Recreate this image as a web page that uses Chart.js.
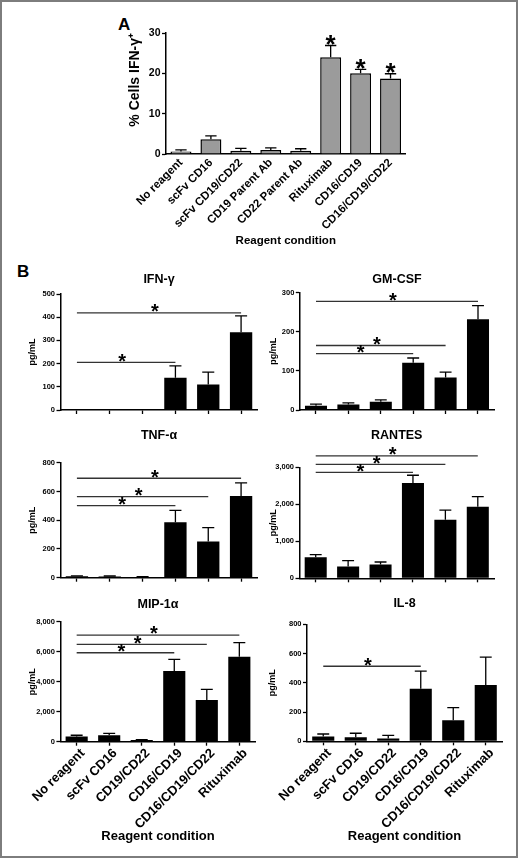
<!DOCTYPE html>
<html>
<head>
<meta charset="utf-8">
<script src="https://cdn.jsdelivr.net/npm/chart.js@4.4.0/dist/chart.umd.min.js"></script>
<style>
body { margin: 0; background: #fff; }
#page { position: relative; width: 520px; height: 860px; overflow: hidden; font-family: "Liberation Sans", Arial, sans-serif; }
#frame { position: absolute; left: 0; top: 0; width: 514px; height: 854px; border: 2px solid #7d7d7d; }
canvas { position: absolute; }
.tag { position: absolute; font-weight: bold; font-size: 17px; line-height: 1; }
</style>
</head>
<body>
<div id="page">
<div id="frame"></div>
<div class="tag" style="left:118px;top:16px">A</div>
<div class="tag" style="left:17px;top:263px">B</div>
<canvas id="cA" width="520" height="258" style="left:0;top:0"></canvas>
<canvas id="cIfn" width="260" height="160" style="left:0;top:262px"></canvas>
<canvas id="cGm" width="260" height="160" style="left:260px;top:262px"></canvas>
<canvas id="cTnf" width="260" height="165" style="left:0;top:422px"></canvas>
<canvas id="cRantes" width="260" height="165" style="left:260px;top:422px"></canvas>
<canvas id="cMip" width="260" height="268" style="left:0;top:587px"></canvas>
<canvas id="cIl8" width="260" height="268" style="left:260px;top:587px"></canvas>
</div>
<script>
// panel A - % IFN-gamma+ cells
const labelsA = ['No reagent', 'scFv CD16', 'scFv CD19/CD22', 'CD19 Parent Ab', 'CD22 Parent Ab', 'Rituximab', 'CD16/CD19', 'CD16/CD19/CD22'];
const cellsIfn = [0.6, 3.65, 0.8, 1.0, 0.8, 24.0, 20.0, 18.7];
const cellsIfnErr = [0.4, 0.85, 0.6, 0.5, 0.5, 2.9, 1.0, 1.2];
const cellsIfnStars = [5, 6, 7];

// panel B - cytokines, pg/mL
const labelsB = ['No reagent', 'scFv CD16', 'CD19/CD22', 'CD16/CD19', 'CD16/CD19/CD22', 'Rituximab'];

const ifng = [0, 0, 0, 139, 110, 335];
const ifngErr = [0, 0, 0, 51, 53, 71];
const ifngSigTo = [5, 3];
const ifngSigAt = [419, 205];

const gmcsf = [11, 14, 21, 121, 83, 232];
const gmcsfErr = [4, 4, 5, 12, 14, 35];
const gmcsfSigTo = [5, 4, 3];
const gmcsfSigAt = [278, 165, 144];

const tnfa = [10, 8, 5, 385, 251, 569];
const tnfaErr = [3, 4, 2, 84, 97, 90];
const tnfaSigTo = [5, 4, 3];
const tnfaSigAt = [692, 564, 501];

const rantes = [570, 320, 370, 2575, 1585, 1935];
const rantesErr = [70, 160, 70, 210, 260, 270];
const rantesSigTo = [5, 4, 3];
const rantesSigAt = [3310, 3080, 2865];

const mip1a = [350, 430, 110, 4710, 2780, 5670];
const mip1aErr = [80, 130, 30, 780, 710, 930];
const mip1aSigTo = [5, 4, 3];
const mip1aSigAt = [7110, 6490, 5930];

const il8 = [33, 28, 20, 360, 144, 385];
const il8Err = [17, 27, 20, 120, 86, 190];
const il8SigTo = [3];
const il8SigAt = [513];

const FONT = '"Liberation Sans", Arial, sans-serif';
Chart.defaults.font.family = FONT;
Chart.defaults.color = '#000';

// error bars (upper half only), significance brackets, stars and panel title
const marks = {
  id: 'marks',
  afterDatasetsDraw(chart, args, o) {
    const ctx = chart.ctx;
    const xs = chart.scales.x, ys = chart.scales.y;
    const vals = chart.data.datasets[0].data;
    const bars = chart.getDatasetMeta(0).data;
    ctx.save();
    ctx.strokeStyle = '#000';
    ctx.lineWidth = 1.3;
    (o.err || []).forEach((e, i) => {
      if (!e) return;
      const bx = bars[i].x;
      const top = ys.getPixelForValue(vals[i] + e);
      const base = ys.getPixelForValue(vals[i]);
      const half = bars[i].width * 0.27;
      ctx.beginPath();
      ctx.moveTo(bx, base); ctx.lineTo(bx, top);
      ctx.moveTo(bx - half, top); ctx.lineTo(bx + half, top);
      ctx.stroke();
    });
    ctx.fillStyle = '#000';
    ctx.textAlign = 'center';
    ctx.textBaseline = 'alphabetic';
    ctx.font = 'bold ' + o.starSize + 'px ' + FONT;
    (o.sigTo || []).forEach((to, k) => {
      const x0 = xs.getPixelForValue(0), x1 = xs.getPixelForValue(to);
      const py = ys.getPixelForValue(o.sigAt[k]);
      ctx.strokeStyle = '#333';
      ctx.beginPath(); ctx.moveTo(x0, py); ctx.lineTo(x1, py); ctx.stroke();
      ctx.fillText('*', (x0 + x1) / 2 - 4, py + o.starSize * 0.27);
    });
    (o.stars || []).forEach(i => {
      const py = ys.getPixelForValue(vals[i] + o.err[i]);
      ctx.fillText('*', bars[i].x, py + o.starSize * 0.28);
    });
    if (o.title) {
      ctx.font = 'bold 12.5px ' + FONT;
      ctx.textBaseline = 'middle';
      ctx.fillText(o.title, (chart.chartArea.left + chart.chartArea.right) / 2, o.titleY);
    }
    ctx.restore();
  }
};

function drawPanel(id, c) {
  const cv = document.getElementById(id);
  const W = cv.width, H = cv.height, box = c.box;
  return new Chart(cv, {
    type: 'bar',
    data: {
      labels: c.labels,
      datasets: [{
        data: c.values,
        backgroundColor: c.color,
        borderColor: '#000',
        borderWidth: c.border,
        barPercentage: c.barPct,
        categoryPercentage: 1
      }]
    },
    options: {
      responsive: false,
      animation: false,
      layout: { padding: { left: 0, right: W - box.r, top: box.t, bottom: 0 } },
      plugins: {
        legend: { display: false },
        tooltip: { enabled: false },
        marks: {
          err: c.err, sigTo: c.sigTo, sigAt: c.sigAt, stars: c.stars,
          starSize: c.starSize, title: c.title, titleY: c.titleY
        }
      },
      scales: {
        x: {
          grid: { display: true, drawOnChartArea: false, offset: false, drawTicks: c.xTick > 0, tickLength: c.xTick, tickColor: '#000', tickWidth: 1.3 },
          border: { color: '#000', width: 1.5 },
          ticks: { display: c.xLabels, autoSkip: false, minRotation: 45, maxRotation: 45, padding: c.xPad, labelOffset: c.xShift, font: { size: c.xFont, weight: 'bold' } },
          // bottom titles are offset by padding.bottom
          title: { display: !!c.xTitle, text: c.xTitle, font: { size: c.xTitleFont, weight: 'bold' }, padding: { top: 0, bottom: c.xTitleGap - c.xTitleFont * 0.6 } },
          afterFit: s => { s.height = H - box.b; }
        },
        y: {
          min: 0,
          max: c.max,
          ticks: { stepSize: c.step, padding: 1.5, font: { size: c.yFont, weight: 'bold' } },
          grid: { drawOnChartArea: false, tickLength: 4, tickColor: '#000', tickWidth: 1.3 },
          border: { color: '#000', width: 1.5 },
          title: { display: true, text: c.yTitle, align: c.yAlign, font: { size: c.yTitleFont, weight: 'bold' }, padding: { top: c.yTitleX - c.yTitleFont * 0.6, bottom: 0 } },
          afterFit: s => { s.width = box.l; }
        }
      }
    },
    plugins: [marks]
  });
}

drawPanel('cA', {
  labels: labelsA, values: cellsIfn, err: cellsIfnErr, stars: cellsIfnStars, starSize: 26,
  color: '#9b9b9b', border: 1.5, barPct: 0.7,
  box: { l: 166, r: 405.5, t: 33, b: 154 },
  max: 30, step: 10, yFont: 10.5,
  yTitle: '% Cells IFN-\u03b3\u207a', yTitleFont: 14, yTitleX: 135.5, yAlign: 'end',
  xTick: 0, xLabels: true, xFont: 11.5, xPad: 2, xShift: 0,
  xTitle: 'Reagent condition', xTitleFont: 11.5, xTitleGap: 17
});

function cytokine(id, values, err, sigTo, sigAt, title, titleY, max, step, box, yTitleX, lastRow) {
  drawPanel(id, {
    labels: labelsB, values: values, err: err, sigTo: sigTo, sigAt: sigAt, starSize: 20,
    title: title, titleY: titleY,
    color: '#000', border: 0, barPct: 0.68,
    box: box, max: max, step: step, yFont: 7.5,
    yTitle: 'pg/mL', yTitleFont: 9, yTitleX: yTitleX, yAlign: 'center',
    xTick: 4, xLabels: lastRow, xFont: 13, xPad: 0, xShift: 6,
    xTitle: lastRow ? 'Reagent condition' : '', xTitleFont: 13, xTitleGap: 19
  });
}

cytokine('cIfn', ifng, ifngErr, ifngSigTo, ifngSigAt, 'IFN-\u03b3', 18, 500, 100, { l: 60.5, r: 257.5, t: 32, b: 148 }, 32.5, false);
cytokine('cGm', gmcsf, gmcsfErr, gmcsfSigTo, gmcsfSigAt, 'GM-CSF', 18, 300, 100, { l: 39.8, r: 234.2, t: 30.7, b: 148 }, 14, false);
cytokine('cTnf', tnfa, tnfaErr, tnfaSigTo, tnfaSigAt, 'TNF-\u03b1', 13.7, 800, 200, { l: 60.5, r: 257.5, t: 40.7, b: 155.7 }, 32.5, false);
cytokine('cRantes', rantes, rantesErr, rantesSigTo, rantesSigAt, 'RANTES', 13.7, 3000, 1000, { l: 39.5, r: 234, t: 45.3, b: 156.3 }, 14, false);
cytokine('cMip', mip1a, mip1aErr, mip1aSigTo, mip1aSigAt, 'MIP-1\u03b1', 17.3, 8000, 2000, { l: 60.4, r: 255.6, t: 34.7, b: 154.7 }, 32.5, true);
cytokine('cIl8', il8, il8Err, il8SigTo, il8SigAt, 'IL-8', 16.3, 800, 200, { l: 47, r: 242, t: 37.3, b: 154.3 }, 13, true);
</script>
</body>
</html>
